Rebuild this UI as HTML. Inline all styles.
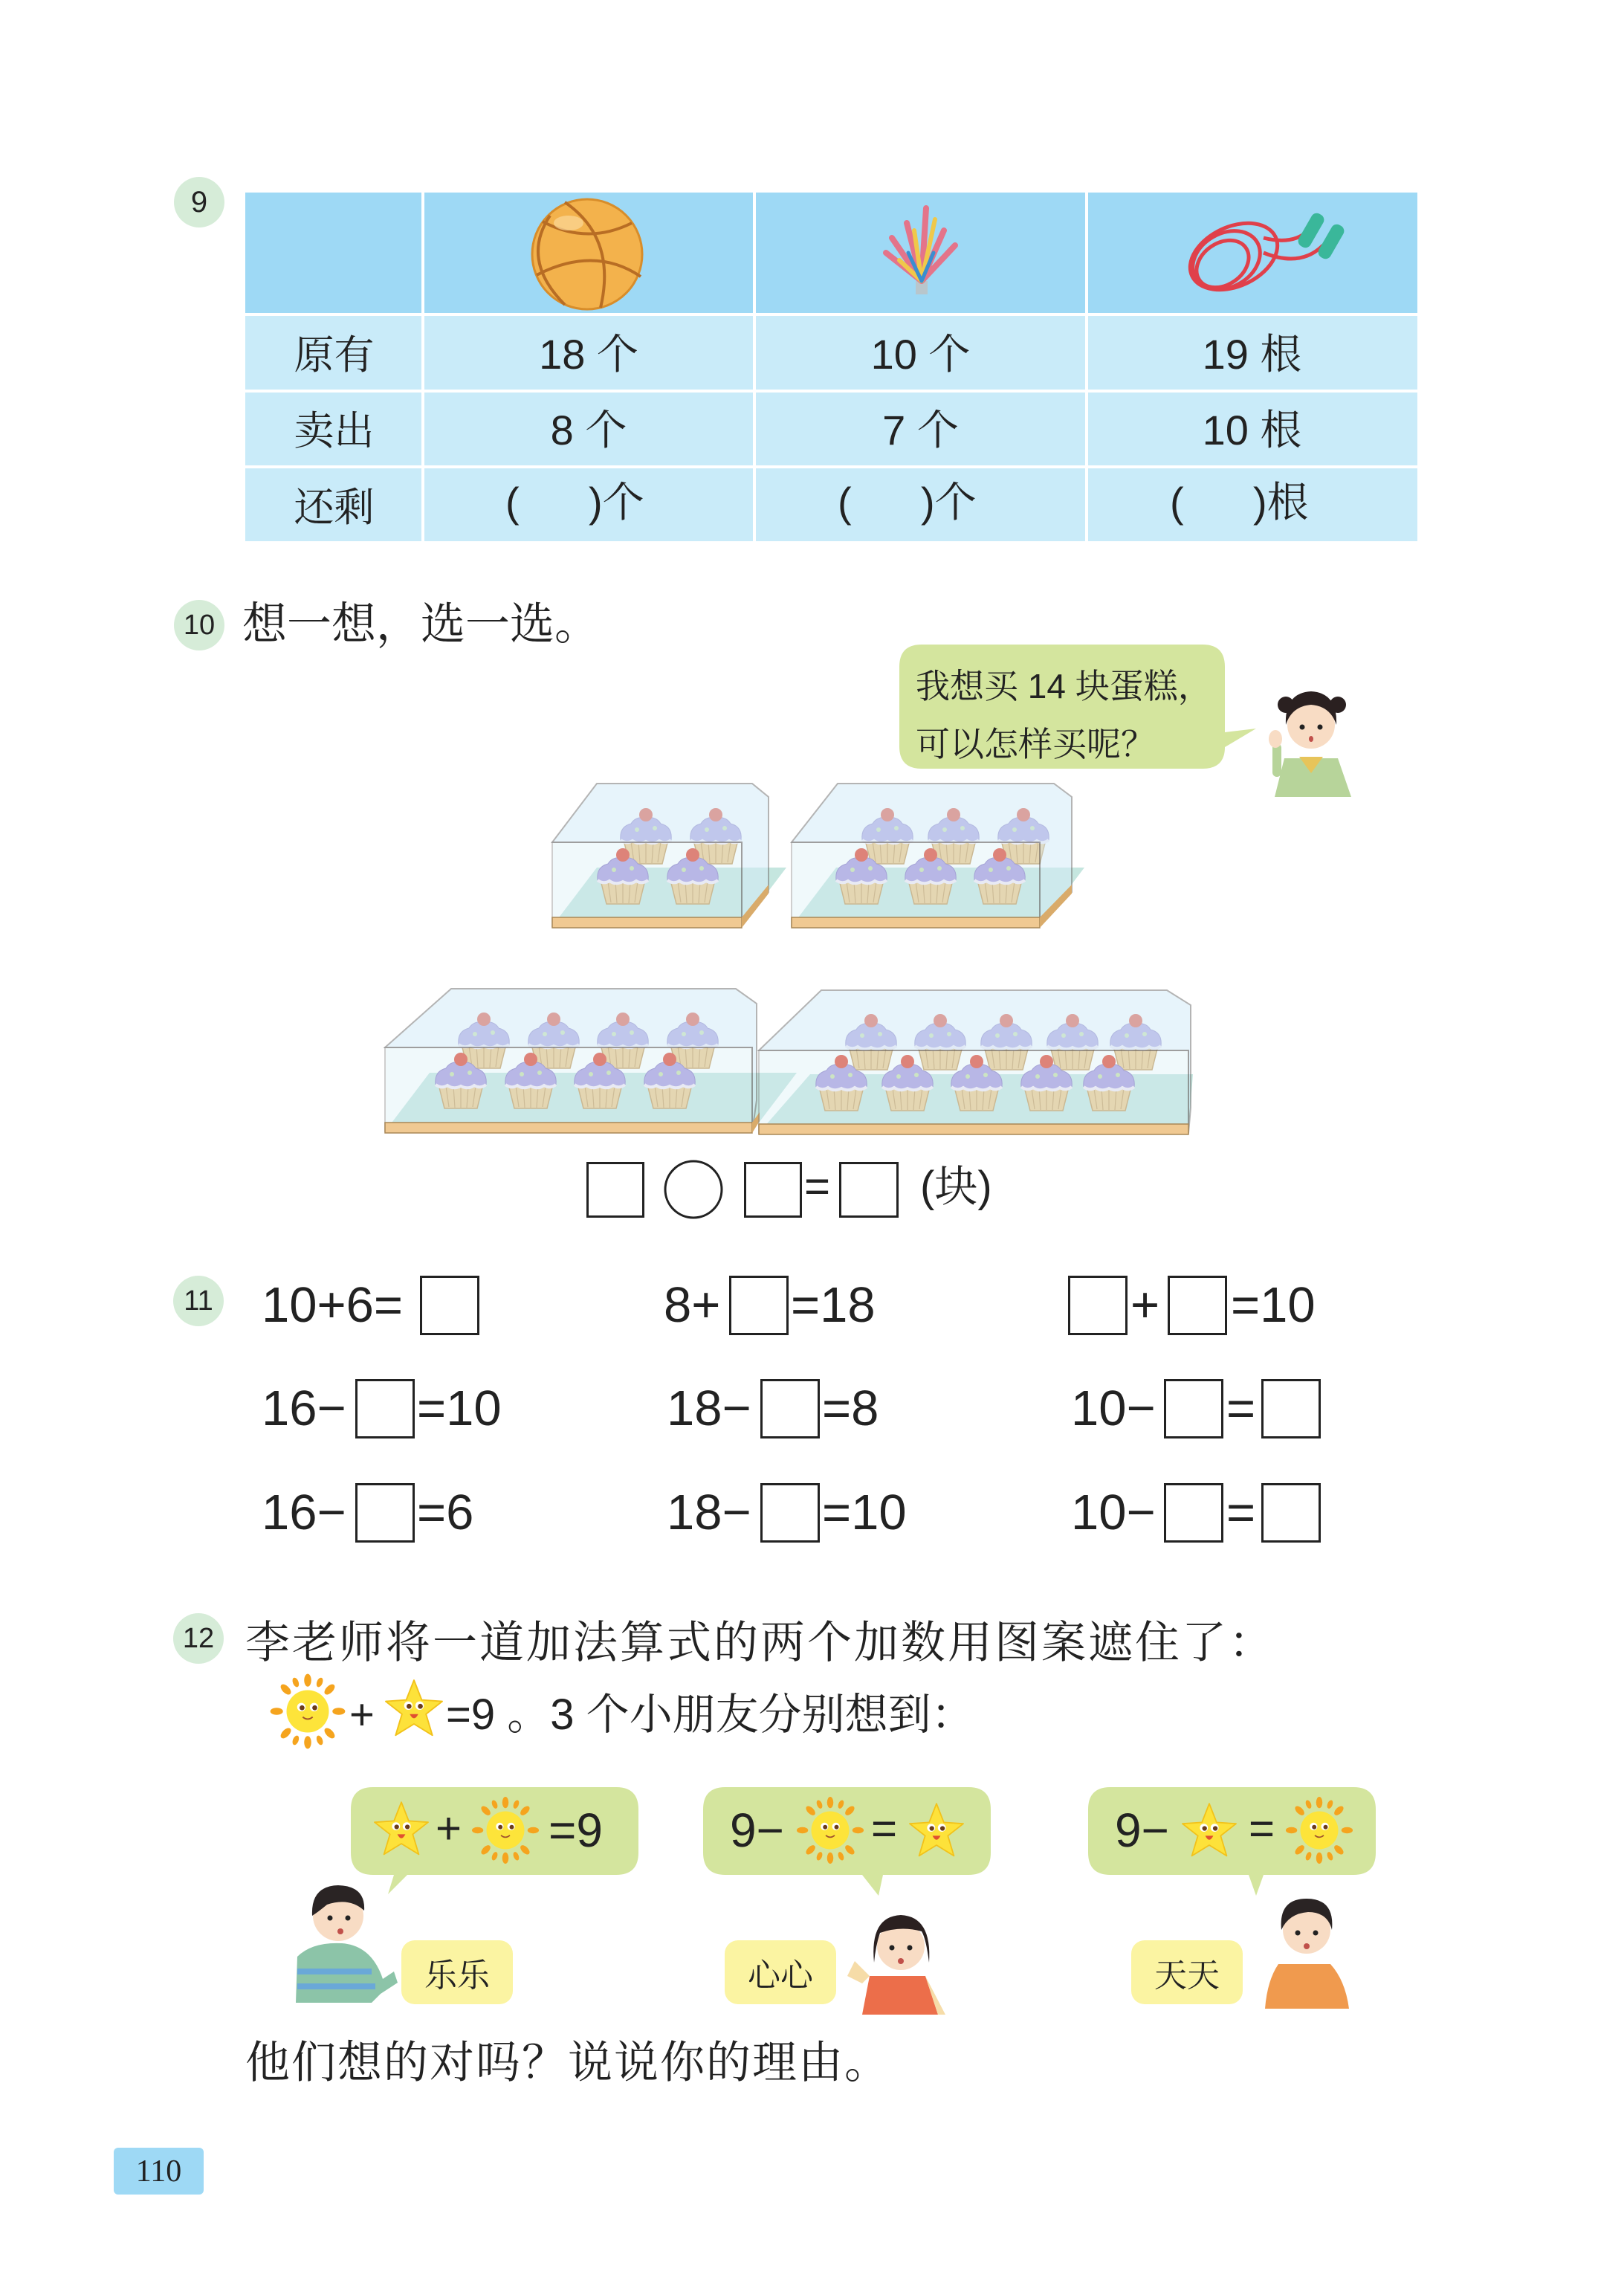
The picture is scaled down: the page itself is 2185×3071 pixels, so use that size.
<!DOCTYPE html>
<html><head><meta charset="utf-8">
<style>
html,body{margin:0;padding:0;background:#fff;}
#p{position:relative;width:2185px;height:3071px;overflow:hidden;background:#fff;font-family:"Liberation Sans","Noto Serif CJK SC",serif;color:#222;}
.t{position:absolute;white-space:nowrap;line-height:1;}
.c{position:absolute;display:flex;align-items:center;justify-content:center;}
.num{position:absolute;width:68px;height:68px;border-radius:50%;background:#d6ecd8;display:flex;align-items:center;justify-content:center;font-size:40px;color:#222;}
.bx{position:absolute;border:3px solid #222;box-sizing:border-box;background:#fff;}
.eq{position:absolute;font-size:67px;line-height:1;white-space:nowrap;}
</style></head><body><div id="p">
<svg width="2185" height="3071" style="position:absolute;left:0;top:0">
<defs>
<g id="cup">
 <path d="M10,44 L70,44 L62,76 L18,76 Z" fill="#ecca8e" stroke="#c59b5e" stroke-width="1.5"/>
 <path d="M20,46 L24,74 M30,46 L32,75 M40,46 L40,75 M50,46 L48,75 M60,46 L56,74" stroke="#c9a266" stroke-width="1.2"/>
 <path d="M6,44 Q4,26 20,22 Q26,12 40,14 Q54,12 60,22 Q76,26 74,44 Q66,50 58,45 Q50,51 40,46 Q30,51 22,45 Q14,50 6,44 Z" fill="#a99ade" stroke="#8a7bc4" stroke-width="1"/>
 <path d="M6,44 Q14,50 22,45 Q30,51 40,46 Q50,51 58,45 Q66,50 74,44" fill="none" stroke="#f3e9f4" stroke-width="4"/>
 <circle cx="40" cy="10" r="9" fill="#e24a36"/>
 <circle cx="28" cy="30" r="3" fill="#c8e0a8"/><circle cx="52" cy="28" r="3" fill="#c8e0a8"/>
</g>
<g id="sun">
 <g fill="#f5a41e">
  <ellipse cx="0" cy="-44" rx="5" ry="9"/><ellipse cx="0" cy="44" rx="5" ry="9"/>
  <ellipse cx="-44" cy="0" rx="9" ry="5"/><ellipse cx="44" cy="0" rx="9" ry="5"/>
  <ellipse cx="-31" cy="-31" rx="5" ry="9" transform="rotate(-45 -31 -31)"/>
  <ellipse cx="31" cy="-31" rx="5" ry="9" transform="rotate(45 31 -31)"/>
  <ellipse cx="-31" cy="31" rx="5" ry="9" transform="rotate(45 -31 31)"/>
  <ellipse cx="31" cy="31" rx="5" ry="9" transform="rotate(-45 31 31)"/>
  <ellipse cx="-17" cy="-41" rx="4" ry="7" transform="rotate(-22 -17 -41)"/>
  <ellipse cx="17" cy="-41" rx="4" ry="7" transform="rotate(22 17 -41)"/>
  <ellipse cx="-17" cy="41" rx="4" ry="7" transform="rotate(22 -17 41)"/>
  <ellipse cx="17" cy="41" rx="4" ry="7" transform="rotate(-22 17 41)"/>
 </g>
 <circle r="30" fill="#fde43a"/>
 <circle cx="-9" cy="-6" r="6" fill="#fff"/><circle cx="9" cy="-6" r="6" fill="#fff"/>
 <circle cx="-8" cy="-5" r="3.5" fill="#6a3b1a"/><circle cx="10" cy="-5" r="3.5" fill="#6a3b1a"/>
 <path d="M-7,8 Q0,14 7,8" fill="none" stroke="#a0522d" stroke-width="2"/>
</g>
<g id="star">
 <polygon points="0,-42 11,-14 40,-12 17,6 26,36 0,20 -26,36 -17,6 -40,-12 -11,-14" fill="#fde23a" stroke="#f2c21a" stroke-width="2" stroke-linejoin="round"/>
 <circle cx="-8" cy="-6" r="6" fill="#fff"/><circle cx="8" cy="-6" r="6" fill="#fff"/>
 <circle cx="-7" cy="-5" r="3.5" fill="#6a3b1a"/><circle cx="9" cy="-5" r="3.5" fill="#6a3b1a"/>
 <path d="M-6,6 Q0,18 6,6 Z" fill="#e05030"/>
</g>
</defs>

<!-- table -->
<rect x="330" y="259" width="1577" height="163" fill="#9ed9f5"/>
<rect x="330" y="422" width="1577" height="306" fill="#c9ebf9"/>
<g stroke="#fff" stroke-width="4">
 <line x1="569" y1="259" x2="569" y2="728"/><line x1="1015" y1="259" x2="1015" y2="728"/><line x1="1462" y1="259" x2="1462" y2="728"/>
 <line x1="330" y1="423" x2="1907" y2="423"/><line x1="330" y1="526" x2="1907" y2="526"/><line x1="330" y1="628" x2="1907" y2="628"/>
</g>
<!-- basketball -->
<circle cx="790" cy="342" r="74" fill="#f3b24c" stroke="#d88d2a" stroke-width="3"/>
<path d="M730,298 Q790,330 850,300 M722,370 Q800,330 862,372 M760,272 Q830,320 808,414 M740,290 Q700,350 760,410" fill="none" stroke="#b86d24" stroke-width="4"/>
<ellipse cx="765" cy="300" rx="20" ry="10" fill="#fbd89a" opacity=".7"/>
<!-- shuttlecock -->
<g transform="translate(1240,340)">
 <rect x="-8" y="38" width="16" height="18" fill="#b8c6cc"/>
 <path d="M0,38 L-40,-20 M0,38 L-20,-40 M0,38 L6,-60 M0,38 L30,-30 M0,38 L45,-10 M0,38 L-48,0" stroke="#e4748a" stroke-width="8" stroke-linecap="round"/>
 <path d="M0,38 L-10,-30 M0,38 L18,-45 M0,38 L-30,10" stroke="#f0c84a" stroke-width="6" stroke-linecap="round"/>
 <path d="M0,38 L-18,0 M0,38 L16,0" stroke="#3a8ed0" stroke-width="5" stroke-linecap="round"/>
</g>
<!-- jump rope -->
<g fill="none" stroke="#e0404a" stroke-width="5">
 <ellipse cx="1650" cy="350" rx="48" ry="36" transform="rotate(-30 1650 350)"/>
 <ellipse cx="1660" cy="345" rx="62" ry="40" transform="rotate(-25 1660 345)"/>
 <ellipse cx="1645" cy="355" rx="38" ry="28" transform="rotate(-35 1645 355)"/>
 <path d="M1700,320 Q1740,330 1760,310 M1700,340 Q1750,360 1780,330"/>
</g>
<g fill="#3ab79a"><rect x="1755" y="285" width="18" height="50" rx="8" transform="rotate(30 1764 310)"/><rect x="1782" y="300" width="18" height="50" rx="8" transform="rotate(30 1791 325)"/></g>

<!-- speech bubble top -->
<path d="M1240,867 L1618,867 Q1648,867 1648,897 L1648,985 L1690,980 L1648,1005 Q1648,1034 1618,1034 L1240,1034 Q1210,1034 1210,1004 L1210,897 Q1210,867 1240,867 Z" fill="#d4e59e"/>
<!-- girl top right -->
<g>
 <path d="M1728,1020 L1800,1020 L1818,1072 L1715,1072 Z" fill="#b7d49a"/>
 <path d="M1748,1018 L1764,1040 L1780,1018 Z" fill="#e7c45a"/>
 <circle cx="1764" cy="975" r="32" fill="#f8dcc4"/>
 <path d="M1730,975 Q1728,932 1764,930 Q1800,932 1798,975 Q1790,950 1764,948 Q1738,950 1730,975 Z" fill="#2a2020"/>
 <circle cx="1730" cy="948" r="11" fill="#2a2020"/><circle cx="1800" cy="948" r="11" fill="#2a2020"/>
 <circle cx="1752" cy="978" r="3.5" fill="#222"/><circle cx="1776" cy="978" r="3.5" fill="#222"/>
 <ellipse cx="1764" cy="994" rx="3" ry="4" fill="#c0504a"/>
 <rect x="1712" y="1000" width="12" height="45" rx="6" fill="#b7d49a"/><ellipse cx="1716" cy="994" rx="9" ry="12" fill="#f8dcc4"/>
</g>

<!-- cake boxes -->
<g id="boxes">
 <polygon points="743,1246 998,1246 1058,1167 803,1167" fill="#c5e6df"/>
 <use href="#cup" x="829" y="1086"/><use href="#cup" x="923" y="1086"/>
 <use href="#cup" x="798" y="1140"/><use href="#cup" x="892" y="1140"/>
 <polygon points="743,1133 803,1054 1012,1054 1034,1072 1034,1200 998,1246 998,1133" fill="#d4ecf8" opacity=".55" stroke="#777" stroke-width="2"/>
 <rect x="743" y="1133" width="255" height="113" fill="#d6eef6" opacity=".35" stroke="#777" stroke-width="2"/>
 <rect x="743" y="1234" width="255" height="14" fill="#f0c992" stroke="#a98756" stroke-width="1.5"/>
 <polygon points="998,1234 1034,1190 1034,1202 998,1248" fill="#d9ab6a"/>
 <polygon points="1065,1246 1399,1246 1459,1167 1125,1167" fill="#c5e6df"/>
 <use href="#cup" x="1154" y="1086"/><use href="#cup" x="1243" y="1086"/><use href="#cup" x="1337" y="1086"/>
 <use href="#cup" x="1119" y="1140"/><use href="#cup" x="1212" y="1140"/><use href="#cup" x="1305" y="1140"/>
 <polygon points="1065,1133 1127,1054 1418,1054 1442,1072 1442,1200 1399,1246 1399,1133" fill="#d4ecf8" opacity=".55" stroke="#777" stroke-width="2"/>
 <rect x="1065" y="1133" width="334" height="113" fill="#d6eef6" opacity=".35" stroke="#777" stroke-width="2"/>
 <rect x="1065" y="1234" width="334" height="14" fill="#f0c992" stroke="#a98756" stroke-width="1.5"/>
 <polygon points="1399,1234 1442,1190 1442,1202 1399,1248" fill="#d9ab6a"/>
 <polygon points="518,1522 1012,1522 1072,1443 578,1443" fill="#c5e6df"/>
 <use href="#cup" x="611" y="1361"/><use href="#cup" x="705" y="1361"/><use href="#cup" x="798" y="1361"/><use href="#cup" x="892" y="1361"/>
 <use href="#cup" x="580" y="1415"/><use href="#cup" x="674" y="1415"/><use href="#cup" x="767" y="1415"/><use href="#cup" x="861" y="1415"/>
 <polygon points="518,1409 607,1330 990,1330 1018,1350 1018,1480 1012,1522 1012,1409" fill="#d4ecf8" opacity=".55" stroke="#777" stroke-width="2"/>
 <rect x="518" y="1409" width="494" height="113" fill="#d6eef6" opacity=".35" stroke="#777" stroke-width="2"/>
 <rect x="518" y="1510" width="494" height="14" fill="#f0c992" stroke="#a98756" stroke-width="1.5"/>
 <polygon points="1012,1510 1022,1496 1022,1508 1012,1524" fill="#d9ab6a"/>
 <polygon points="1021,1524 1599,1524 1605,1445 1090,1445" fill="#c5e6df"/>
 <use href="#cup" x="1132" y="1363"/><use href="#cup" x="1225" y="1363"/><use href="#cup" x="1314" y="1363"/><use href="#cup" x="1403" y="1363"/><use href="#cup" x="1488" y="1363"/>
 <use href="#cup" x="1092" y="1418"/><use href="#cup" x="1181" y="1418"/><use href="#cup" x="1274" y="1418"/><use href="#cup" x="1368" y="1418"/><use href="#cup" x="1452" y="1418"/>
 <polygon points="1021,1413 1105,1332 1570,1332 1602,1352 1602,1490 1599,1524 1599,1413" fill="#d4ecf8" opacity=".55" stroke="#777" stroke-width="2"/>
 <rect x="1021" y="1413" width="578" height="111" fill="#d6eef6" opacity=".35" stroke="#777" stroke-width="2"/>
 <rect x="1021" y="1512" width="578" height="14" fill="#f0c992" stroke="#a98756" stroke-width="1.5"/>
</g>

<ellipse cx="933" cy="1600" rx="38" ry="38" fill="#fff" stroke="#222" stroke-width="3"/>

<use href="#sun" transform="translate(414,2302) scale(0.95)"/>
<use href="#star" transform="translate(557,2300) scale(0.95)"/>

<!-- bottom bubbles -->
<path d="M502,2404 L829,2404 Q859,2404 859,2434 L859,2492 Q859,2522 829,2522 L548,2522 L522,2548 L530,2522 L502,2522 Q472,2522 472,2492 L472,2434 Q472,2404 502,2404 Z" fill="#d4e59e"/>
<path d="M976,2404 L1303,2404 Q1333,2404 1333,2434 L1333,2492 Q1333,2522 1303,2522 L1188,2522 L1182,2550 L1160,2522 L976,2522 Q946,2522 946,2492 L946,2434 Q946,2404 976,2404 Z" fill="#d4e59e"/>
<path d="M1494,2404 L1821,2404 Q1851,2404 1851,2434 L1851,2492 Q1851,2522 1821,2522 L1700,2522 L1690,2550 L1680,2522 L1494,2522 Q1464,2522 1464,2492 L1464,2434 Q1464,2404 1494,2404 Z" fill="#d4e59e"/>
<use href="#star" transform="translate(540,2462) scale(0.9)"/>
<use href="#sun" transform="translate(680,2462) scale(0.85)"/>
<use href="#sun" transform="translate(1117,2462) scale(0.85)"/>
<use href="#star" transform="translate(1260,2464) scale(0.9)"/>
<use href="#star" transform="translate(1627,2464) scale(0.9)"/>
<use href="#sun" transform="translate(1775,2462) scale(0.85)"/>

<rect x="540" y="2610" width="150" height="86" rx="18" fill="#fbf4a2"/>
<rect x="975" y="2610" width="150" height="86" rx="18" fill="#fbf4a2"/>
<rect x="1522" y="2610" width="150" height="86" rx="18" fill="#fbf4a2"/>

<!-- kid 1 -->
<g transform="translate(0,22)">
 <path d="M400,2610 Q420,2590 460,2592 Q500,2595 515,2640 L530,2630 L535,2645 L512,2660 L500,2672 L398,2672 Z" fill="#8cc4a8"/>
 <path d="M400,2630 L500,2630 M400,2650 L505,2650" stroke="#6aa8d8" stroke-width="8"/>
 <circle cx="455" cy="2555" r="34" fill="#f8dcc4"/>
 <path d="M420,2555 Q418,2515 455,2514 Q492,2515 490,2548 Q470,2530 440,2540 Q428,2550 420,2555 Z" fill="#2a2424"/>
 <circle cx="444" cy="2558" r="3.5" fill="#222"/><circle cx="468" cy="2558" r="3.5" fill="#222"/>
 <ellipse cx="458" cy="2576" rx="4" ry="4" fill="#c0504a"/>
</g>
<!-- kid 2 -->
<g transform="translate(0,18)">
 <path d="M1170,2640 L1245,2640 L1262,2692 L1160,2692 Z" fill="#ec6e4a"/>
 <path d="M1160,2650 L1140,2640 L1150,2620 L1170,2640 Z" fill="#f6dca8"/>
 <path d="M1245,2640 L1272,2692 L1262,2692 Z" fill="#f6dca8"/>
 <circle cx="1212" cy="2600" r="32" fill="#f8dcc4"/>
 <path d="M1176,2622 Q1170,2560 1212,2558 Q1254,2560 1250,2622 Q1246,2590 1240,2580 Q1212,2572 1184,2582 Q1178,2600 1176,2622 Z" fill="#2a2020"/>
 <circle cx="1200" cy="2602" r="3.5" fill="#222"/><circle cx="1224" cy="2602" r="3.5" fill="#222"/>
 <ellipse cx="1212" cy="2620" rx="4" ry="4" fill="#c0504a"/>
</g>
<!-- kid 3 -->
<g transform="translate(0,24)">
 <path d="M1720,2618 L1790,2618 Q1810,2640 1815,2678 L1702,2678 Q1705,2640 1720,2618 Z" fill="#f09a4e"/>
 <circle cx="1758" cy="2572" r="32" fill="#f8dcc4"/>
 <path d="M1724,2572 Q1720,2530 1758,2530 Q1796,2530 1792,2572 Q1786,2548 1760,2548 Q1734,2550 1724,2572 Z" fill="#2a2424"/>
 <circle cx="1746" cy="2576" r="3.5" fill="#222"/><circle cx="1770" cy="2576" r="3.5" fill="#222"/>
 <ellipse cx="1758" cy="2594" rx="4" ry="4" fill="#c0504a"/>
</g>

<rect x="153" y="2889" width="121" height="63" rx="6" fill="#9ed9f5"/>
</svg>

<div class="num" style="left:234px;top:238px">9</div>
<div class="num" style="left:234px;top:807px;font-size:38px">10</div>
<div class="num" style="left:233px;top:1716px;font-size:38px">11</div>
<div class="num" style="left:233px;top:2170px;font-size:38px">12</div>

<div class="c" style="left:330px;top:440px;width:239px;height:66px;font-size:54px">原有</div>
<div class="c" style="left:569px;top:440px;width:446px;height:66px;font-size:56px">18 个</div>
<div class="c" style="left:1015px;top:440px;width:447px;height:66px;font-size:56px">10 个</div>
<div class="c" style="left:1462px;top:440px;width:445px;height:66px;font-size:56px">19 根</div>
<div class="c" style="left:330px;top:542px;width:239px;height:66px;font-size:54px">卖出</div>
<div class="c" style="left:569px;top:542px;width:446px;height:66px;font-size:56px">8 个</div>
<div class="c" style="left:1015px;top:542px;width:447px;height:66px;font-size:56px">7 个</div>
<div class="c" style="left:1462px;top:542px;width:445px;height:66px;font-size:56px">10 根</div>
<div class="c" style="left:330px;top:645px;width:239px;height:66px;font-size:54px">还剩</div>
<div class="t" style="left:680px;top:648px;font-size:56px">(&nbsp;&nbsp;&nbsp;&nbsp;&nbsp;&nbsp;)个</div>
<div class="t" style="left:1127px;top:648px;font-size:56px">(&nbsp;&nbsp;&nbsp;&nbsp;&nbsp;&nbsp;)个</div>
<div class="t" style="left:1574px;top:648px;font-size:56px">(&nbsp;&nbsp;&nbsp;&nbsp;&nbsp;&nbsp;)根</div>

<div class="t" style="left:326px;top:810px;font-size:60px">想一想，选一选。</div>
<div class="t" style="left:1232px;top:900px;font-size:46px">我想买 14 块蛋糕，</div>
<div class="t" style="left:1232px;top:978px;font-size:46px">可以怎样买呢？</div>

<div class="bx" style="left:789px;top:1563px;width:78px;height:75px"></div>
<div class="bx" style="left:1001px;top:1563px;width:78px;height:75px"></div>
<div class="eq" style="left:1082px;top:1566px;font-size:60px">=</div>
<div class="bx" style="left:1129px;top:1563px;width:80px;height:75px"></div>
<div class="t" style="left:1238px;top:1568px;font-size:58px">(块)</div>

<div class="eq" style="left:352px;top:1722px">10+6=</div>
<div class="bx" style="left:565px;top:1716px;width:80px;height:80px"></div>
<div class="eq" style="left:893px;top:1722px">8+</div>
<div class="bx" style="left:981px;top:1716px;width:80px;height:80px"></div>
<div class="eq" style="left:1064px;top:1722px">=18</div>
<div class="bx" style="left:1437px;top:1716px;width:80px;height:80px"></div>
<div class="eq" style="left:1521px;top:1722px">+</div>
<div class="bx" style="left:1571px;top:1716px;width:80px;height:80px"></div>
<div class="eq" style="left:1656px;top:1722px">=10</div>

<div class="eq" style="left:352px;top:1861px">16−</div>
<div class="bx" style="left:478px;top:1855px;width:80px;height:80px"></div>
<div class="eq" style="left:561px;top:1861px">=10</div>
<div class="eq" style="left:897px;top:1861px">18−</div>
<div class="bx" style="left:1023px;top:1855px;width:80px;height:80px"></div>
<div class="eq" style="left:1106px;top:1861px">=8</div>
<div class="eq" style="left:1441px;top:1861px">10−</div>
<div class="bx" style="left:1566px;top:1855px;width:80px;height:80px"></div>
<div class="eq" style="left:1650px;top:1861px">=</div>
<div class="bx" style="left:1697px;top:1855px;width:80px;height:80px"></div>

<div class="eq" style="left:352px;top:2001px">16−</div>
<div class="bx" style="left:478px;top:1995px;width:80px;height:80px"></div>
<div class="eq" style="left:561px;top:2001px">=6</div>
<div class="eq" style="left:897px;top:2001px">18−</div>
<div class="bx" style="left:1023px;top:1995px;width:80px;height:80px"></div>
<div class="eq" style="left:1106px;top:2001px">=10</div>
<div class="eq" style="left:1441px;top:2001px">10−</div>
<div class="bx" style="left:1566px;top:1995px;width:80px;height:80px"></div>
<div class="eq" style="left:1650px;top:2001px">=</div>
<div class="bx" style="left:1697px;top:1995px;width:80px;height:80px"></div>

<div class="t" style="left:330px;top:2180px;font-size:60px;letter-spacing:3px">李老师将一道加法算式的两个加数用图案遮住了：</div>
<div class="t" style="left:470px;top:2278px;font-size:58px">+</div>
<div class="t" style="left:600px;top:2278px;font-size:58px">=9 。3 个小朋友分别想到：</div>

<div class="t" style="left:586px;top:2430px;font-size:60px">+</div>
<div class="t" style="left:738px;top:2430px;font-size:64px">=9</div>
<div class="t" style="left:982px;top:2430px;font-size:64px">9−</div>
<div class="t" style="left:1172px;top:2430px;font-size:60px">=</div>
<div class="t" style="left:1500px;top:2430px;font-size:64px">9−</div>
<div class="t" style="left:1680px;top:2430px;font-size:60px">=</div>

<div class="c" style="left:540px;top:2610px;width:150px;height:86px;font-size:44px">乐乐</div>
<div class="c" style="left:975px;top:2610px;width:150px;height:86px;font-size:44px">心心</div>
<div class="c" style="left:1522px;top:2610px;width:150px;height:86px;font-size:44px">天天</div>

<div class="t" style="left:330px;top:2745px;font-size:60px;letter-spacing:2px">他们想的对吗？说说你的理由。</div>
<div class="c" style="left:153px;top:2889px;width:121px;height:63px;font-size:42px;font-family:'Liberation Serif',serif">110</div>
</div></body></html>
